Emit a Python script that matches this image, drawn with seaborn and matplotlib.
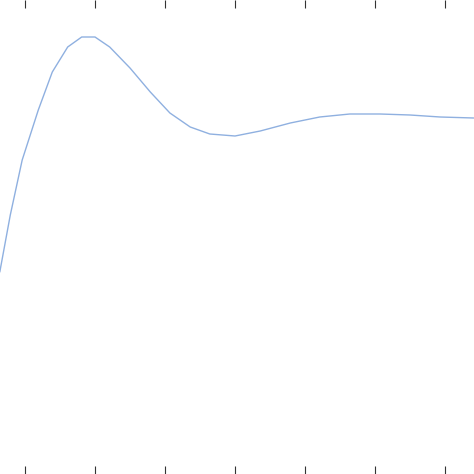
import numpy as np
import pandas as pd
import matplotlib
matplotlib.use('Agg')
import matplotlib.pyplot as plt
import seaborn as sns

# step response
t = [0.64, 0.79, 0.96, 1.19, 1.39, 1.61, 1.81, 2.0, 2.21, 2.5, 2.79, 3.07, 3.36, 3.64, 4.0,
     4.36, 4.79, 5.21, 5.64, 6.07, 6.5, 6.93, 7.41]
y = [202, 259, 314, 364, 402, 427, 437, 437, 427, 406, 382, 361, 347, 340, 338,
     343, 351, 357, 360, 360, 359, 357, 356]
xticks = [1, 2, 3, 4, 5, 6, 7]

df = pd.DataFrame({'t': t, 'y': y})

sns.set_style('white')
fig = plt.figure(figsize=(4.74, 4.74), dpi=100)
ax = fig.add_axes([0, 0, 1, 1])
sns.lineplot(data=df, x='t', y='y', ax=ax, color='#8fb0e0', linewidth=1)
ax.set_xlim(0.643, 7.414)
ax.set_ylim(0, 474)
ax.set_xticks(xticks)
ax.set_yticks([])
ax.tick_params(axis='x', direction='in', length=6, width=0.8, color='#333333',
               top=True, bottom=True, labelbottom=False, labeltop=False)
ax.set_xlabel('')
ax.set_ylabel('')
for s in ax.spines.values():
    s.set_visible(False)
fig.savefig('out.png', dpi=100)
